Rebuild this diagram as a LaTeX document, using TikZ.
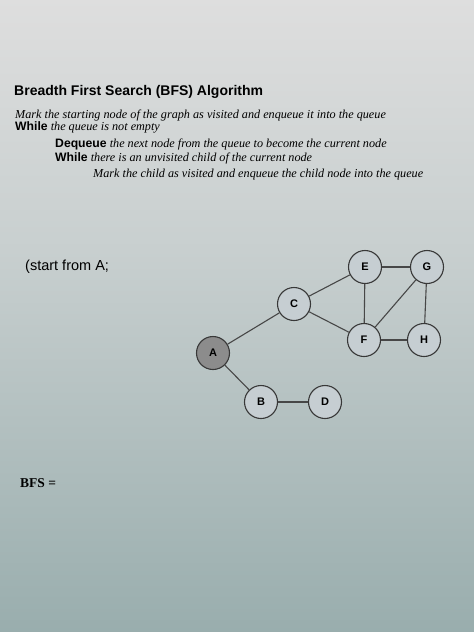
\documentclass[tikz,border=0pt]{standalone}
\usepackage{fontspec}
\setmainfont{Liberation Serif}
\newfontfamily\arial{Liberation Sans}
\begin{document}
\begin{tikzpicture}[x=1pt,y=-1pt,
  txt/.style={anchor=base west,inner sep=0pt},
  body/.style={txt,font=\fontsize{12.2}{13}\selectfont},
  vtx/.style={circle,draw=black!78,line width=1.1pt,fill=white!90!cyan!60!gray,minimum size=33pt,inner sep=0pt,font=\arial\fontsize{11}{12}\selectfont\bfseries},
  start/.style={vtx,fill=black!45},
  edge/.style={draw=black!72,line width=1.1pt}]
\useasboundingbox (0,0) rectangle (474,632);
\shade[top color=black!13,bottom color=black!12!cyan!8!gray!40] (0,0) rectangle (474,250);
\shade[top color=black!12!cyan!8!gray!40,bottom color=cyan!20!black!40] (0,250) rectangle (474,632);
% text
\node[txt,font=\arial\fontsize{14}{16}\selectfont\bfseries] (title) at (14,95) {Breadth First Search (BFS) Algorithm};
\node[body,font=\fontsize{12.2}{13}\selectfont\itshape] (l1) at (15,118) {Mark the starting node of the graph as visited and enqueue it into the queue};
\node[body] (l2) at (15,130) {{\arial\bfseries While} \itshape the queue is not empty};
\node[body] (l3) at (55,147) {{\arial\bfseries Dequeue} \itshape the next node from the queue to become the current node};
\node[body] (l4) at (55,161) {{\arial\bfseries While} \itshape there is an unvisited child of the current node};
\node[body,font=\fontsize{12.2}{13}\selectfont\itshape] (l5) at (93,177) {Mark the child as visited and enqueue the child node into the queue};
\node[txt,font=\arial\fontsize{14.5}{16}\selectfont] (sf) at (25,270) {(start from A;};
\node[txt,font=\fontsize{13.5}{15}\selectfont\bfseries] (bfs) at (20,487) {BFS =};
% graph
\node[vtx] (E) at (365,267) {E};
\node[vtx] (G) at (427,267) {G};
\node[vtx] (C) at (294,304) {C};
\node[vtx] (F) at (364,340) {F};
\node[vtx] (H) at (424,340) {H};
\node[start] (A) at (213,353) {A};
\node[vtx] (B) at (261,402) {B};
\node[vtx] (D) at (325,402) {D};
\draw[edge] (A) -- (C);
\draw[edge] (A) -- (B);
\draw[edge] (B) -- (D);
\draw[edge] (C) -- (E);
\draw[edge] (C) -- (F);
\draw[edge] (E) -- (G);
\draw[edge] (E) -- (F);
\draw[edge] (F) -- (G);
\draw[edge] (G) -- (H);
\draw[edge] (F) -- (H);
\end{tikzpicture}
\end{document}
